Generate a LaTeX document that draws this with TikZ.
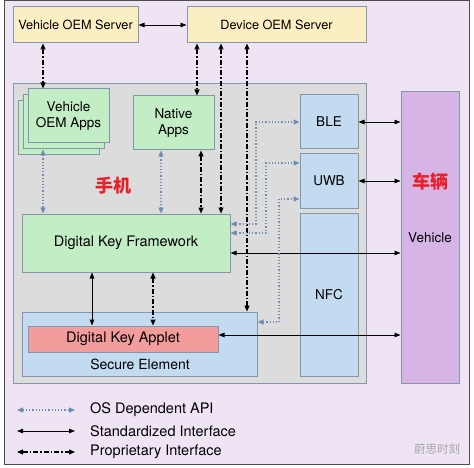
\documentclass[tikz,border=0pt]{standalone}
\usepackage{fontspec}
\setmainfont{TeX Gyre Heros}
\newfontfamily\cjk{Noto Sans CJK SC}
\usetikzlibrary{arrows.meta}
\definecolor{bglav}{HTML}{EFE4F3}
\definecolor{phonegray}{HTML}{DCDCDC}
\definecolor{edgec}{HTML}{8496AB}
\definecolor{yel}{HTML}{FCEEC3}
\definecolor{grn}{HTML}{C3EDC4}
\definecolor{blu}{HTML}{C3DBF0}
\definecolor{pnk}{HTML}{F39C9C}
\definecolor{prp}{HTML}{D6B5E6}
\definecolor{osblue}{HTML}{6F8DB3}
\definecolor{redt}{HTML}{E8202A}
\tikzset{
  box/.style={draw=edgec, line width=1pt, inner sep=0pt, align=center, font=\fontsize{13.5}{15.5}\selectfont},
  bigtxt/.style={font=\fontsize{14.5}{16}\selectfont},
  srvtxt/.style={font=\fontsize{12.7}{14}\selectfont},
  std/.style={black, line width=0.8pt, {Triangle[length=6pt,width=4.5pt]}-{Triangle[length=6pt,width=4.5pt]}},
  prop/.style={black, line width=1.3pt, dash pattern=on 5pt off 2pt on 1.5pt off 2pt, {Triangle[length=6pt,width=5pt]}-{Triangle[length=6pt,width=5pt]}},
  osapi/.style={osblue, line width=1.2pt, dash pattern=on 1.2pt off 2pt, {Triangle[length=6pt,width=5pt]}-{Triangle[length=6pt,width=5pt]}},
  legtxt/.style={anchor=west, inner sep=0pt, font=\fontsize{14.5}{16}\selectfont},
  cntxt/.style={font=\cjk\bfseries\fontsize{18}{20}\selectfont, text=redt}
}
\begin{document}
\begin{tikzpicture}[x=1pt,y=-1pt]
\useasboundingbox (0,0) rectangle (474,468);
\fill[white] (0,0) rectangle (474,468);
\draw[fill=bglav, draw=black!70, line width=1pt] (4,1) rectangle (469,464);
% servers
\node[box, srvtxt, fill=yel, minimum width=125pt, minimum height=36pt] (vos) at (75.5,25) {Vehicle OEM Server};
\node[box, srvtxt, fill=yel, minimum width=179pt, minimum height=36pt] (dos) at (276.5,25) {Device OEM Server};
% phone
\node[box, fill=phonegray, minimum width=353pt, minimum height=299pt] (phone) at (189.5,233.5) {};
% vehicle
\node[box, fill=prp, minimum width=58pt, minimum height=291pt] (veh) at (430,237.5) {};
\node[font=\fontsize{13.5}{15}\selectfont] (vehtxt) at (430,238) {Vehicle};
\node[cntxt] (cheliang) at (430,182) {车辆};
% apps stack
\node[box, fill=grn, minimum width=81pt, minimum height=54pt] (appsb) at (58.5,128) {};
\node[box, fill=grn, minimum width=81pt, minimum height=54pt] (appsm) at (63.5,122) {};
\node[box, fill=grn, minimum width=81pt, minimum height=54pt] (appsf) at (68.5,116) {Vehicle\\OEM Apps};
\node[box, fill=grn, minimum width=81pt, minimum height=54pt] (native) at (173.5,123) {Native\\Apps};
\node[cntxt] (shouji) at (113,186) {手机};
\node[box, bigtxt, fill=grn, minimum width=208pt, minimum height=58pt] (dkf) at (126,243) {Digital Key Framework};
% radios
\node[box, fill=blu, minimum width=58pt, minimum height=54pt] (ble) at (329,122) {BLE};
\node[box, fill=blu, minimum width=58pt, minimum height=54pt] (uwb) at (329,181) {UWB};
\node[box, fill=blu, minimum width=58pt, minimum height=163pt] (nfc) at (329,294.5) {NFC};
% secure element
\node[box, fill=blu, minimum width=235pt, minimum height=64pt] (se) at (139.5,344) {};
\node[box, bigtxt, fill=pnk, minimum width=190pt, minimum height=26pt] (applet) at (123,339) {Digital Key Applet};
\node[font=\fontsize{14}{16}\selectfont] (setxt) at (140,364) {Secure Element};
% connectors
\draw[std] (vos) -- (dos);
\draw[prop] (43,0 |- vos.south) -- (43,0 |- appsf.north);
\draw[prop] (197,0 |- dos.south) -- (197,0 |- native.north);
\draw[prop] (221,0 |- dos.south) -- (221,0 |- dkf.north);
\draw[prop] (247,0 |- dos.south) -- (247,0 |- se.north);
\draw[prop] (201,0 |- native.south) -- (201,0 |- dkf.north);
\draw[osapi] (43,0 |- appsm.south) -- (43,0 |- dkf.north);
\draw[osapi] (161,0 |- native.south) -- (161,0 |- dkf.north);
\draw[std] (92,0 |- dkf.south) -- (92,0 |- applet.north);
\draw[prop] (153,0 |- dkf.south) -- (153,0 |- applet.north);
\draw[std] (dkf.east |- 0,253) -- (veh.west |- 0,253);
\draw[std] (applet.east |- 0,335) -- (veh.west |- 0,335);
\draw[std] (ble.east) -- (veh.west |- ble.east);
\draw[std] (uwb.east) -- (veh.west |- uwb.east);
\draw[osapi] (dkf.east |- 0,224) -- (256,224) -- (256,122) -- (ble.west |- 0,122);
\draw[osapi] (dkf.east |- 0,233) -- (266,233) -- (266,163) -- (uwb.west |- 0,163);
\draw[osapi] (se.east |- 0,322) -- (279,322) -- (279,199) -- (uwb.west |- 0,199);
% legend
\coordinate (l1a) at (17,410); \coordinate (l1b) at (75,410);
\coordinate (l2a) at (17,431); \coordinate (l2b) at (75,431);
\coordinate (l3a) at (17,452); \coordinate (l3b) at (75,452);
\draw[osapi] (l1a) -- (l1b);
\draw[std] (l2a) -- (l2b);
\draw[prop] (l3a) -- (l3b);
\node[legtxt] (t1) at (90,410) {OS Dependent API};
\node[legtxt] (t2) at (90,431) {Standardized Interface};
\node[legtxt] (t3) at (90,452) {Proprietary Interface};
\node[font=\cjk\fontsize{11.5}{12}\selectfont, text=black!35] (wm) at (437,449) {蔚思时刻};
\end{tikzpicture}
\end{document}
